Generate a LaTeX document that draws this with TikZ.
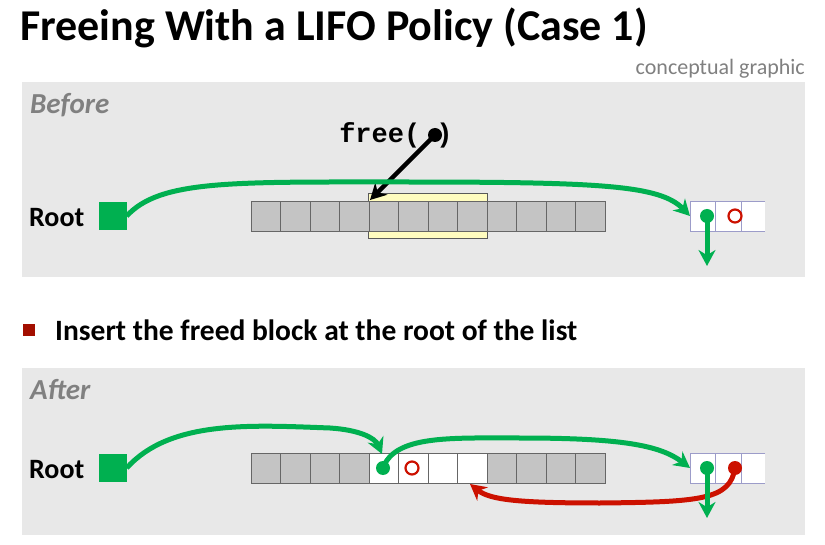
\documentclass[tikz,border=0pt]{standalone}
\usepackage{fontspec}
\setmainfont{Carlito}
\setmonofont{Liberation Mono}
\usetikzlibrary{arrows.meta}
\definecolor{gr}{HTML}{00B050}
\definecolor{rd}{HTML}{CC1100}
\definecolor{panel}{HTML}{E8E8E8}
\definecolor{cellg}{HTML}{C4C4C4}
\tikzset{
 panelbox/.style={fill=panel,draw=none},
 cellbox/.style={fill=cellg,draw=gray!80!black,line width=0.6pt},
 wcell/.style={fill=white,draw=gray!80!black,line width=0.6pt},
 rcell/.style={fill=white,draw=blue!30!gray!60,line width=0.6pt},
 garrow/.style={draw=gr,line width=5pt,-{Stealth[length=16pt,width=17pt]}},
 rarrow/.style={draw=rd,line width=5pt,-{Stealth[length=16pt,width=17pt]}},
 rootsq/.style={fill=gr,draw=none,minimum size=28pt,inner sep=0pt},
 lbl/.style={font=\fontsize{28}{30}\selectfont\bfseries,anchor=west,inner sep=0pt},
 sect/.style={font=\fontsize{29}{30}\selectfont\bfseries\itshape,text=gray,anchor=west,inner sep=0pt},
}
\begin{document}
\begin{tikzpicture}[x=1pt,y=-1pt]
\useasboundingbox (0,0) rectangle (825,545);
\fill[white] (0,0) rectangle (825,545);
\node[anchor=west,inner sep=0pt,font=\fontsize{44}{48}\selectfont\bfseries] (title) at (20,28) {Freeing With a LIFO Policy (Case 1)};
\node[anchor=east,inner sep=0pt,text=gray,font=\fontsize{22}{24}\selectfont] (cg) at (805,69) {conceptual graphic};
% Before panel
\fill[panelbox] (22,82) rectangle (805,277);
\node[sect] (bef) at (30,105) {Before};
\node[lbl] (root1) at (29,218) {Root};
\node[rootsq] (sq1) at (112.5,216) {};
\fill[yellow!25,draw=gray!70!black,line width=0.6pt] (368,193) rectangle (487,238);
\foreach \i in {0,...,11} {\draw[cellbox] (251+\i*29.5,201) rectangle (280.5+\i*29.5,231);}
\foreach \i in {0,1} {\draw[rcell] (690+\i*25.5,201) rectangle (715.5+\i*25.5,231);}
\fill[white] (741,201) rectangle (765,231);
\draw[blue!30!gray!60,line width=0.6pt] (765,201) -- (741,201) -- (741,231) -- (765,231);
\node[anchor=center,inner sep=0pt,font=\ttfamily\bfseries\fontsize{27}{28}\selectfont] (free) at (396,135) {free(\phantom{x})};
\coordinate (fp) at (435,135);
\coordinate (ht) at (370,200);
\fill (fp) circle (7);
\draw[line width=4.5pt,-{Stealth[length=16pt,width=17pt]}] (fp) -- (ht);
\coordinate (t1) at (690,216);
\draw[garrow] (sq1.east) .. controls (160,180) and (230,182) .. (400,182) .. controls (600,182) and (660,185) .. (t1);
\coordinate (d1) at (707,216);
\coordinate (e1) at (707,266);
\fill[gr] (d1) circle (7);
\draw[garrow] (d1) -- (e1);
\draw[rd,line width=2.2pt] (735,216) circle (6.5);
% bullet
\fill[rd!80!black] (23,324) rectangle (35,336);
\node[lbl,font=\fontsize{29.5}{30}\selectfont\bfseries] (bul) at (55,330) {Insert the freed block at the root of the list};
% After panel
\fill[panelbox] (22,368) rectangle (805,535);
\node[sect] (aft) at (30,390) {After};
\node[lbl] (root2) at (29,470) {Root};
\node[rootsq] (sq2) at (112.5,468) {};
\foreach \i in {0,...,11} {
 \pgfmathsetmacro{\c}{(\i>3 && \i<8) ? 1 : 0}
 \ifdim\c pt>0.5pt \draw[wcell] (251+\i*29.5,453) rectangle (280.5+\i*29.5,483);
 \else \draw[cellbox] (251+\i*29.5,453) rectangle (280.5+\i*29.5,483); \fi}
\foreach \i in {0,1} {\draw[rcell] (690+\i*25.5,453) rectangle (715.5+\i*25.5,483);}
\fill[white] (741,453) rectangle (765,483);
\draw[blue!30!gray!60,line width=0.6pt] (765,453) -- (741,453) -- (741,483) -- (765,483);
\coordinate (a1) at (382,454);
\draw[garrow] (sq2.east) .. controls (170,420) and (250,425) .. (330,428) .. controls (360,430) and (375,438) .. (a1);
\coordinate (gd) at (383,468);
\fill[gr] (gd) circle (7);
\coordinate (t2) at (690,468);
\draw[garrow] (gd) .. controls (395,435) and (450,438) .. (520,438) .. controls (620,438) and (660,445) .. (t2);
\draw[rd,line width=2.2pt] (412,468) circle (6.5);
\coordinate (rd1) at (735,468);
\coordinate (rt) at (470,484);
\draw[rarrow] (rd1) .. controls (730,500) and (700,502) .. (600,503) .. controls (520,503) and (490,500) .. (rt);
\fill[rd] (rd1) circle (7);
\coordinate (d2) at (707,468);
\coordinate (e2) at (707,518);
\fill[gr] (d2) circle (7);
\draw[garrow] (d2) -- (e2);
\end{tikzpicture}
\end{document}
